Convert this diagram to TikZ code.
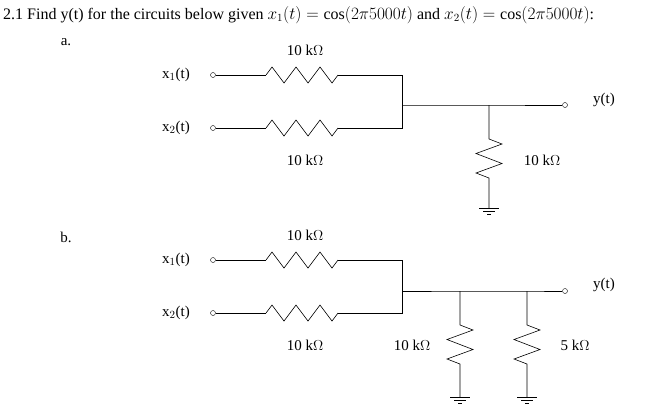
\documentclass[tikz,border=0pt]{standalone}
\usepackage{fontspec}
\setmainfont{Liberation Serif}
\usetikzlibrary{decorations.pathmorphing}
\begin{document}
\begin{tikzpicture}[x=1pt,y=-1pt,
  res/.style={decorate,decoration={zigzag,segment length=24pt,amplitude=8pt}},
  term/.style={circle,draw,inner sep=0pt,minimum size=5pt,fill=white},
  lbl/.style={font=\fontsize{15}{17}\selectfont,inner sep=0pt},
  wire/.style={line width=0.6pt}]
\useasboundingbox (0,0) rectangle (666,408);
\node[lbl,anchor=west,font=\fontsize{16}{18}\selectfont] (title) at (3,15) {2.1 Find y(t) for the circuits below given $x_1(t)=\cos(2\pi5000t)$ and $x_2(t)=\cos(2\pi5000t)$:};
% part a
\node[lbl] (la) at (66,42) {a.};
\node[lbl] (ax1) at (176,75) {x$_1$(t)};
\node[lbl] (ax2) at (176,128) {x$_2$(t)};
\node[term] (at1) at (213,75) {};
\node[term] (at2) at (213,128) {};
\coordinate (ar1a) at (266,75); \coordinate (ar1b) at (338,75);
\coordinate (ar2a) at (266,128); \coordinate (ar2b) at (338,128);
\coordinate (aj1) at (402,75); \coordinate (aj2) at (402,128);
\coordinate (am) at (402,105); \coordinate (as) at (489,105);
\node[term] (ao) at (565,105) {};
\coordinate (ara) at (489,139);
\coordinate (ag) at (489,208);
\draw[wire] (at1) -- (ar1a); \draw[wire,res] (ar1a) -- (ar1b); \draw[wire] (ar1b) -- (aj1) -- (aj2) -- (ar2b);
\draw[wire,res] (ar2b) -- (ar2a); \draw[wire] (ar2a) -- (at2);
\draw[wire] (am) -- (as) -- (ao);
\draw[wire] (as) -- (ara) -- ++(13,5) -- ++(-26,9.5) -- ++(26,10) -- ++(-26,9.5) -- ++(13,5) -- (ag);
\draw[wire] (479,208) -- (499,208) (483,211) -- (495,211) (487,214) -- (491,214);
\node[lbl] (ay) at (604,100) {y(t)};
\node[lbl] (aR1) at (305,50) {10 k$\Omega$};
\node[lbl] (aR2) at (305,160) {10 k$\Omega$};
\node[lbl] (aR3) at (542,160) {10 k$\Omega$};
% part b
\node[lbl] (lb) at (66,237) {b.};
\node[lbl] (bx1) at (176,260) {x$_1$(t)};
\node[lbl] (bx2) at (176,313) {x$_2$(t)};
\node[term] (bt1) at (213,260) {};
\node[term] (bt2) at (213,313) {};
\coordinate (br1a) at (266,260); \coordinate (br1b) at (338,260);
\coordinate (br2a) at (266,313); \coordinate (br2b) at (338,313);
\coordinate (bj1) at (402,260); \coordinate (bj2) at (402,313);
\coordinate (bm) at (402,291); \coordinate (bs1) at (460,291); \coordinate (bs2) at (527,291);
\node[term] (bo) at (565,291) {};
\coordinate (bra) at (460,325); \coordinate (bg) at (460,397);
\coordinate (bqa) at (527,325); \coordinate (bq) at (527,397);
\draw[wire] (bt1) -- (br1a); \draw[wire,res] (br1a) -- (br1b); \draw[wire] (br1b) -- (bj1) -- (bj2) -- (br2b);
\draw[wire,res] (br2b) -- (br2a); \draw[wire] (br2a) -- (bt2);
\draw[wire] (bm) -- (bs1) -- (bs2) -- (bo);
\draw[wire] (bs1) -- (bra) -- ++(13,5) -- ++(-26,9.5) -- ++(26,10) -- ++(-26,9.5) -- ++(13,5) -- (bg);
\draw[wire] (bs2) -- (bqa) -- ++(13,5) -- ++(-26,9.5) -- ++(26,10) -- ++(-26,9.5) -- ++(13,5) -- (bq);
\draw[wire] (450,397) -- (470,397) (454,400) -- (466,400) (458,403) -- (462,403);
\draw[wire] (517,397) -- (537,397) (521,400) -- (533,400) (525,403) -- (529,403);
\node[lbl] (by) at (604,285) {y(t)};
\node[lbl] (bR1) at (305,235) {10 k$\Omega$};
\node[lbl] (bR2) at (305,345) {10 k$\Omega$};
\node[lbl] (bR3) at (412,345) {10 k$\Omega$};
\node[lbl] (bR4) at (575,345) {5 k$\Omega$};
\end{tikzpicture}
\end{document}
